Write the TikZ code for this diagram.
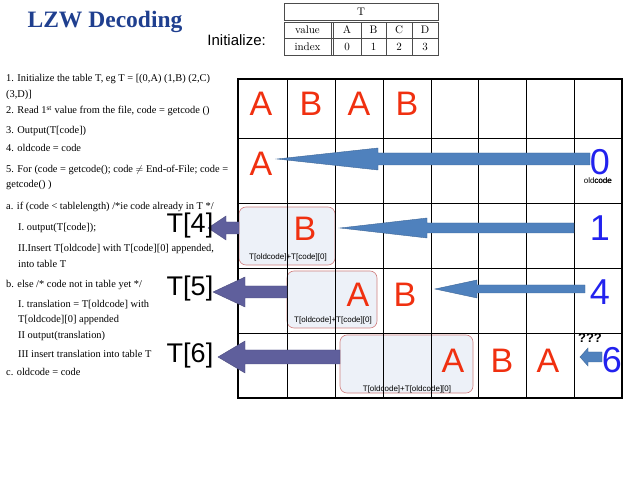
\documentclass[tikz,border=0pt]{standalone}
\usepackage{fontspec}
\setmainfont{Liberation Serif}
\newfontfamily\sansf{Liberation Sans}
\newfontfamily\lmf{Latin Modern Roman}
\definecolor{arrblue}{HTML}{4F81BD}
\definecolor{arrpurp}{HTML}{5F5F9C}
\definecolor{lred}{HTML}{F03010}
\definecolor{dblue}{HTML}{2222EE}
\definecolor{boxfill}{HTML}{EDF1F8}
\definecolor{boxline}{HTML}{D08080}
\definecolor{titleblue}{HTML}{1F3F8F}
\newcommand\larr[7]{% color, tipx, y, headx, headh, tailx, shafth
  \fill[#1,draw=#1!80!black,line width=0.4pt] (#2,#3) -- (#4,#3-#5) -- (#4,#3-#7) -- (#6,#3-#7) -- (#6,#3+#7) -- (#4,#3+#7) -- (#4,#3+#5) -- cycle;}
\tikzset{
  txt/.style={anchor=west,inner sep=0pt,font=\fontsize{10.4}{12}\selectfont},
  big/.style={inner sep=0pt,font=\sansf\fontsize{34}{34}\selectfont,text=lred},
  num/.style={inner sep=0pt,font=\sansf\fontsize{36}{36}\selectfont,text=dblue},
  tlab/.style={inner sep=0pt,font=\sansf\fontsize{27}{27}\selectfont},
  rbox/.style={draw=boxline,fill=boxfill,rounded corners=7pt,line width=0.6pt},
  small/.style={inner sep=0pt,font=\sansf\fontsize{8}{8}\selectfont},
  tab/.style={inner sep=0pt,font=\lmf\fontsize{11}{11}\selectfont}
}
\begin{document}
\begin{tikzpicture}[x=1pt,y=-1pt]
\useasboundingbox (0,0) rectangle (638,478);
% title
\node[inner sep=0pt,font=\bfseries\fontsize{23.5}{24}\selectfont,text=titleblue] (title) at (105,22) {LZW Decoding};
\node[inner sep=0pt,anchor=east,font=\sansf\fontsize{15}{15}\selectfont] (init) at (266,40) {Initialize:};
% table
\draw[line width=0.6pt,black!70] (284,3) rectangle (438,20);
\node[tab] (tT) at (361,11.5) {T};
\draw[line width=0.6pt,black!70] (284,22) rectangle (438,55);
\draw[line width=0.6pt,black!70] (284,38.5) -- (438,38.5);
\foreach \x in {331,333,361,386,412} \draw[line width=0.6pt,black!70] (\x,22) -- (\x,55);
\node[tab] (tv) at (307.5,30) {value};
\node[tab] (ti) at (307.5,46.5) {index};
\foreach \x/\a/\b in {347/A/0,373.5/B/1,399/C/2,425/D/3}{
  \node[tab] at (\x,30) {\a}; \node[tab] at (\x,46.5) {\b};}
% left text
\node[txt] (l1) at (6,79) {1. Initialize the table T, eg T = [(0,A) (1,B) (2,C)};
\node[txt] (l1b) at (6,95) {(3,D)]};
\node[txt] (l2) at (6,111) {2. Read 1\textsuperscript{st} value from the file, code = getcode ()};
\node[txt] (l3) at (6,131) {3. Output(T[code])};
\node[txt] (l4) at (6,148) {4. oldcode = code};
\node[txt] (l5) at (6,170) {5. For (code = getcode(); code $\neq$ End-of-File; code =};
\node[txt] (l5b) at (6,185) {getcode() )};
\node[txt] (la) at (6,207) {a. if (code < tablelength) /*ie code already in T */};
\node[txt] (la1) at (18,228) {I. output(T[code]);};
\node[txt] (la2) at (18,249) {II.Insert T[oldcode] with T[code][0] appended,};
\node[txt] (la2b) at (18,264) {into table T};
\node[txt] (lb) at (6,285) {b. else /* code not in table yet */};
\node[txt] (lb1) at (18,305) {I. translation = T[oldcode] with};
\node[txt] (lb1b) at (18,320) {T[oldcode][0] appended};
\node[txt] (lb2) at (18,336) {II output(translation)};
\node[txt] (lb3) at (18,354) {III insert translation into table T};
\node[txt] (lc) at (6,372) {c. oldcode = code};
% boxes
\draw[rbox] (239,207) rectangle (335,265);
\draw[rbox] (287,271) rectangle (377,328);
\draw[rbox] (340,335) rectangle (473,393);
% grid
\foreach \x in {287,335,383,431,478,526,574} \draw[line width=0.6pt] (\x,79) -- (\x,398);
\foreach \y in {138,203,268,333} \draw[line width=0.6pt] (238,\y) -- (622,\y);
\draw[line width=1.6pt] (238,79) rectangle (622,398);
% row 1
\node[big] at (261,104) {A};
\node[big] at (311,104) {B};
\node[big] at (359,104) {A};
\node[big] at (407,104) {B};
% row 2
\node[big] at (261,164) {A};
\larr{arrblue}{277}{159}{378}{11}{590}{6}
\node[num] (n0) at (600,162) {0};
\node[small] at (598,181) {oldcode};
\node[small] at (603,181) {code};
% row 3
\node[big] at (305,229) {B};
\node[small] at (288,257) {T[oldcode]+T[code][0]};
\larr{arrblue}{340}{228}{427}{10}{574}{5}
\node[num] (n1) at (600,228) {1};
\larr{arrpurp}{208}{228}{226}{12}{239}{6}
\node[tlab] (t4) at (190,226) {T[4]};
% row 4
\node[big] at (358,295) {A};
\node[big] at (405,295) {B};
\node[small] at (333,320) {T[oldcode]+T[code][0]};
\larr{arrblue}{435}{289}{477}{9}{585}{4}
\node[num] (n4) at (600,292) {4};
\larr{arrpurp}{213}{292}{245}{15}{287}{6}
\node[tlab] (t5) at (190,289) {T[5]};
% row 5
\node[big] at (453,361) {A};
\node[big] at (502,361) {B};
\node[big] at (548,361) {A};
\node[small] at (407,389) {T[oldcode]+T[oldcode][0]};
\node[inner sep=0pt,font=\sansf\bfseries\fontsize{13}{13}\selectfont] at (590,338) {???};
\larr{arrblue}{580}{357}{588}{9}{602}{5}
\node[num] (n6) at (612,360) {6};
\larr{arrpurp}{218}{357}{245}{16}{340}{7}
\node[tlab] (t6) at (190,356) {T[6]};
\end{tikzpicture}
\end{document}
